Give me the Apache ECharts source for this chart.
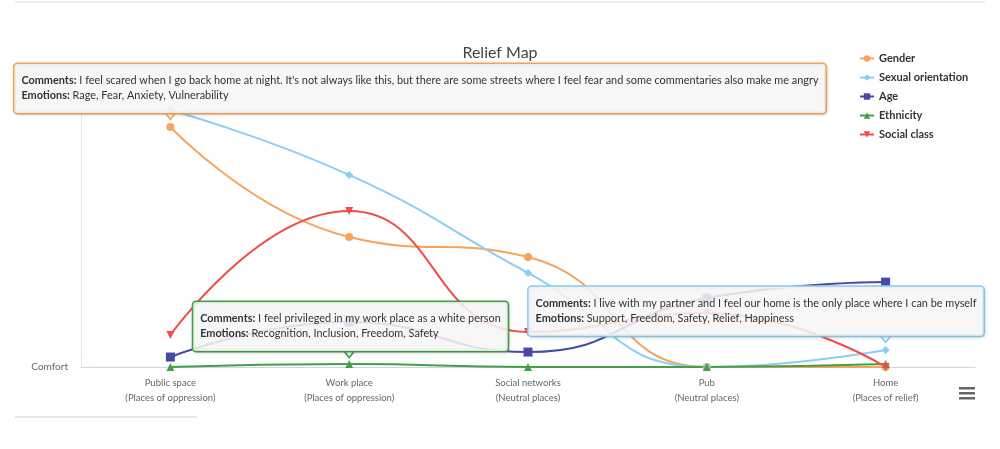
<!DOCTYPE html>
<html lang="en">
	<head>
		<meta charset="UTF-8">
		<title>Relief Map</title>
		<script src="https://cdn.jsdelivr.net/npm/echarts@6/dist/echarts.min.js"></script>
		<style>
			html, body {
				margin: 0;
				padding: 0;
				background: #fff;
			}
			#main {
				width: 1000px;
				height: 449px;
			}
		</style>
	</head>

	<body>
		<div id="main"></div>
	</body>

	<script>
		// places on the x axis
		const categories = [
			"Public space\n(Places of oppression)",
			"Work place\n(Places of oppression)",
			"Social networks\n(Neutral places)",
			"Pub\n(Neutral places)",
			"Home\n(Places of relief)"
		];
		const yLabels = ["Comfort"];

		// series values (0 = comfort)
		const gender = [91.6, 49.6, 42.0, 0, 0];
		const sexualOrientation = [98.0, 73.3, 35.9, 0, 6.5];
		const age = [3.8, 17.2, 5.7, 26.3, 32.4];
		const ethnicity = [0, 1.1, 0, 0, 1.1];
		const socialClass = [12.2, 59.5, 13.4, 20.6, 0];

		// the three open comments: [point index, comment, emotions]
		const noteGender = [0,
			"I feel scared when I go back home at night. It's not always like this, but there are some streets where I feel fear and some commentaries also make me angry",
			"Rage, Fear, Anxiety, Vulnerability"];
		const noteEthnicity = [1,
			"I feel privileged in my work place as a white person",
			"Recognition, Inclusion, Freedom, Safety"];
		const noteSexual = [4,
			"I live with my partner and I feel our home is the only place where I can be myself",
			"Support, Freedom, Safety, Relief, Happiness"];

		const font = "Lato";
		const boxBg = "rgba(249,249,249,0.86)";

		// tooltip-like callout, drawn as a markPoint so it sits above every line
		function callout(values, note, color, shiftX, lift) {
			return {
				z: 10,
				symbol: "path://M0,0 L5,6 L10,0",
				symbolSize: [11, 7],
				symbolOffset: [0, -lift],
				itemStyle: {
					color: boxBg,
					borderColor: color,
					borderWidth: 1.5
				},
				label: {
					show: true,
					position: "top",
					distance: -1,
					align: "left",
					offset: [shiftX, 0],
					formatter: "{b|Comments:} " + note[1] + "\n{b|Emotions:} " + note[2],
					backgroundColor: boxBg,
					borderColor: color,
					borderWidth: 1.5,
					borderRadius: 3,
					padding: [9, 7, 10, 7],
					shadowColor: "rgba(0,0,0,0.12)",
					shadowBlur: 3,
					shadowOffsetX: 1,
					shadowOffsetY: 1,
					color: "#333",
					fontFamily: font,
					fontSize: 10.9,
					lineHeight: 15,
					rich: {
						b: {
							fontWeight: "bold",
							fontFamily: font,
							fontSize: 10.9,
							color: "#333"
						}
					}
				},
				emphasis: { disabled: true },
				data: [{ coord: [note[0], values[note[0]]] }]
			};
		}

		function line(name, values, color, symbol, extra) {
			let s = {
				name: name,
				type: "line",
				smooth: true,
				data: values,
				symbol: symbol,
				symbolSize: 8,
				color: color,
				lineStyle: { width: 2 },
				emphasis: { disabled: true }
			};
			return Object.assign(s, extra || {});
		}

		const cGender = "#f7a35c";
		const cSexual = "#8ccdf3";
		const cAge = "#4848a6";
		const cEthnicity = "#44a044";
		const cSocial = "#f44a4a";

		let option = {
			animation: false,
			textStyle: { fontFamily: font },
			title: {
				text: "Relief Map",
				left: "center",
				top: 40,
				textStyle: {
					fontFamily: font,
					fontSize: 16,
					fontWeight: "normal",
					color: "#444"
				}
			},
			legend: {
				orient: "vertical",
				left: 854,
				top: 48,
				itemGap: 8,
				itemWidth: 14,
				itemHeight: 8,
				textStyle: {
					fontFamily: font,
					fontSize: 11,
					fontWeight: "bold",
					color: "#333"
				},
				data: ["Gender", "Sexual orientation", "Age", "Ethnicity", "Social class"]
			},
			grid: {
				left: 81,
				right: 25,
				top: 105,
				bottom: 82
			},
			xAxis: {
				type: "category",
				data: categories,
				axisLine: { lineStyle: { color: "#ccd6eb" } },
				axisTick: { length: 8, lineStyle: { color: "#ccd6eb" } },
				axisLabel: {
					fontFamily: font,
					fontSize: 9.5,
					color: "#666",
					lineHeight: 15,
					margin: 8
				}
			},
			yAxis: {
				type: "value",
				min: 0,
				max: 100,
				interval: 100,
				axisLine: { show: true, lineStyle: { color: "#e2e8f2" } },
				axisTick: { show: false },
				splitLine: { show: false },
				axisLabel: {
					fontFamily: font,
					fontSize: 10,
					color: "#666",
					margin: 13,
					formatter: (v) => v === 0 ? yLabels[0] : ""
				}
			},
			graphic: [
				{ type: "line", shape: { x1: 15, y1: 2, x2: 985, y2: 2 }, style: { stroke: "#dde9ee", lineWidth: 1.5 } },
				{ type: "line", shape: { x1: 15, y1: 417, x2: 197, y2: 417 }, style: { stroke: "#dedede", lineWidth: 1.5 } },
				{ type: "rect", shape: { x: 959, y: 387, width: 16, height: 2.5 }, style: { fill: "#666" } },
				{ type: "rect", shape: { x: 959, y: 392, width: 16, height: 2.5 }, style: { fill: "#666" } },
				{ type: "rect", shape: { x: 959, y: 397, width: 16, height: 2.5 }, style: { fill: "#666" } }
			],
			series: [
				line("Gender", gender, cGender, "circle",
					{ markPoint: callout(gender, noteGender, cGender, -156, 11) }),
				line("Sexual orientation", sexualOrientation, cSexual, "diamond",
					{ markPoint: callout(sexualOrientation, noteSexual, cSexual, -357, 11) }),
				line("Age", age, cAge, "rect", { symbolSize: 9 }),
				line("Ethnicity", ethnicity, cEthnicity, "triangle",
					{ markPoint: callout(ethnicity, noteEthnicity, cEthnicity, -156, 10) }),
				line("Social class", socialClass, cSocial, "triangle", { symbolRotate: 180 })
			]
		};

		let echart = echarts.init(document.getElementById("main"));
		echart.setOption(option);
	</script>
</html>
